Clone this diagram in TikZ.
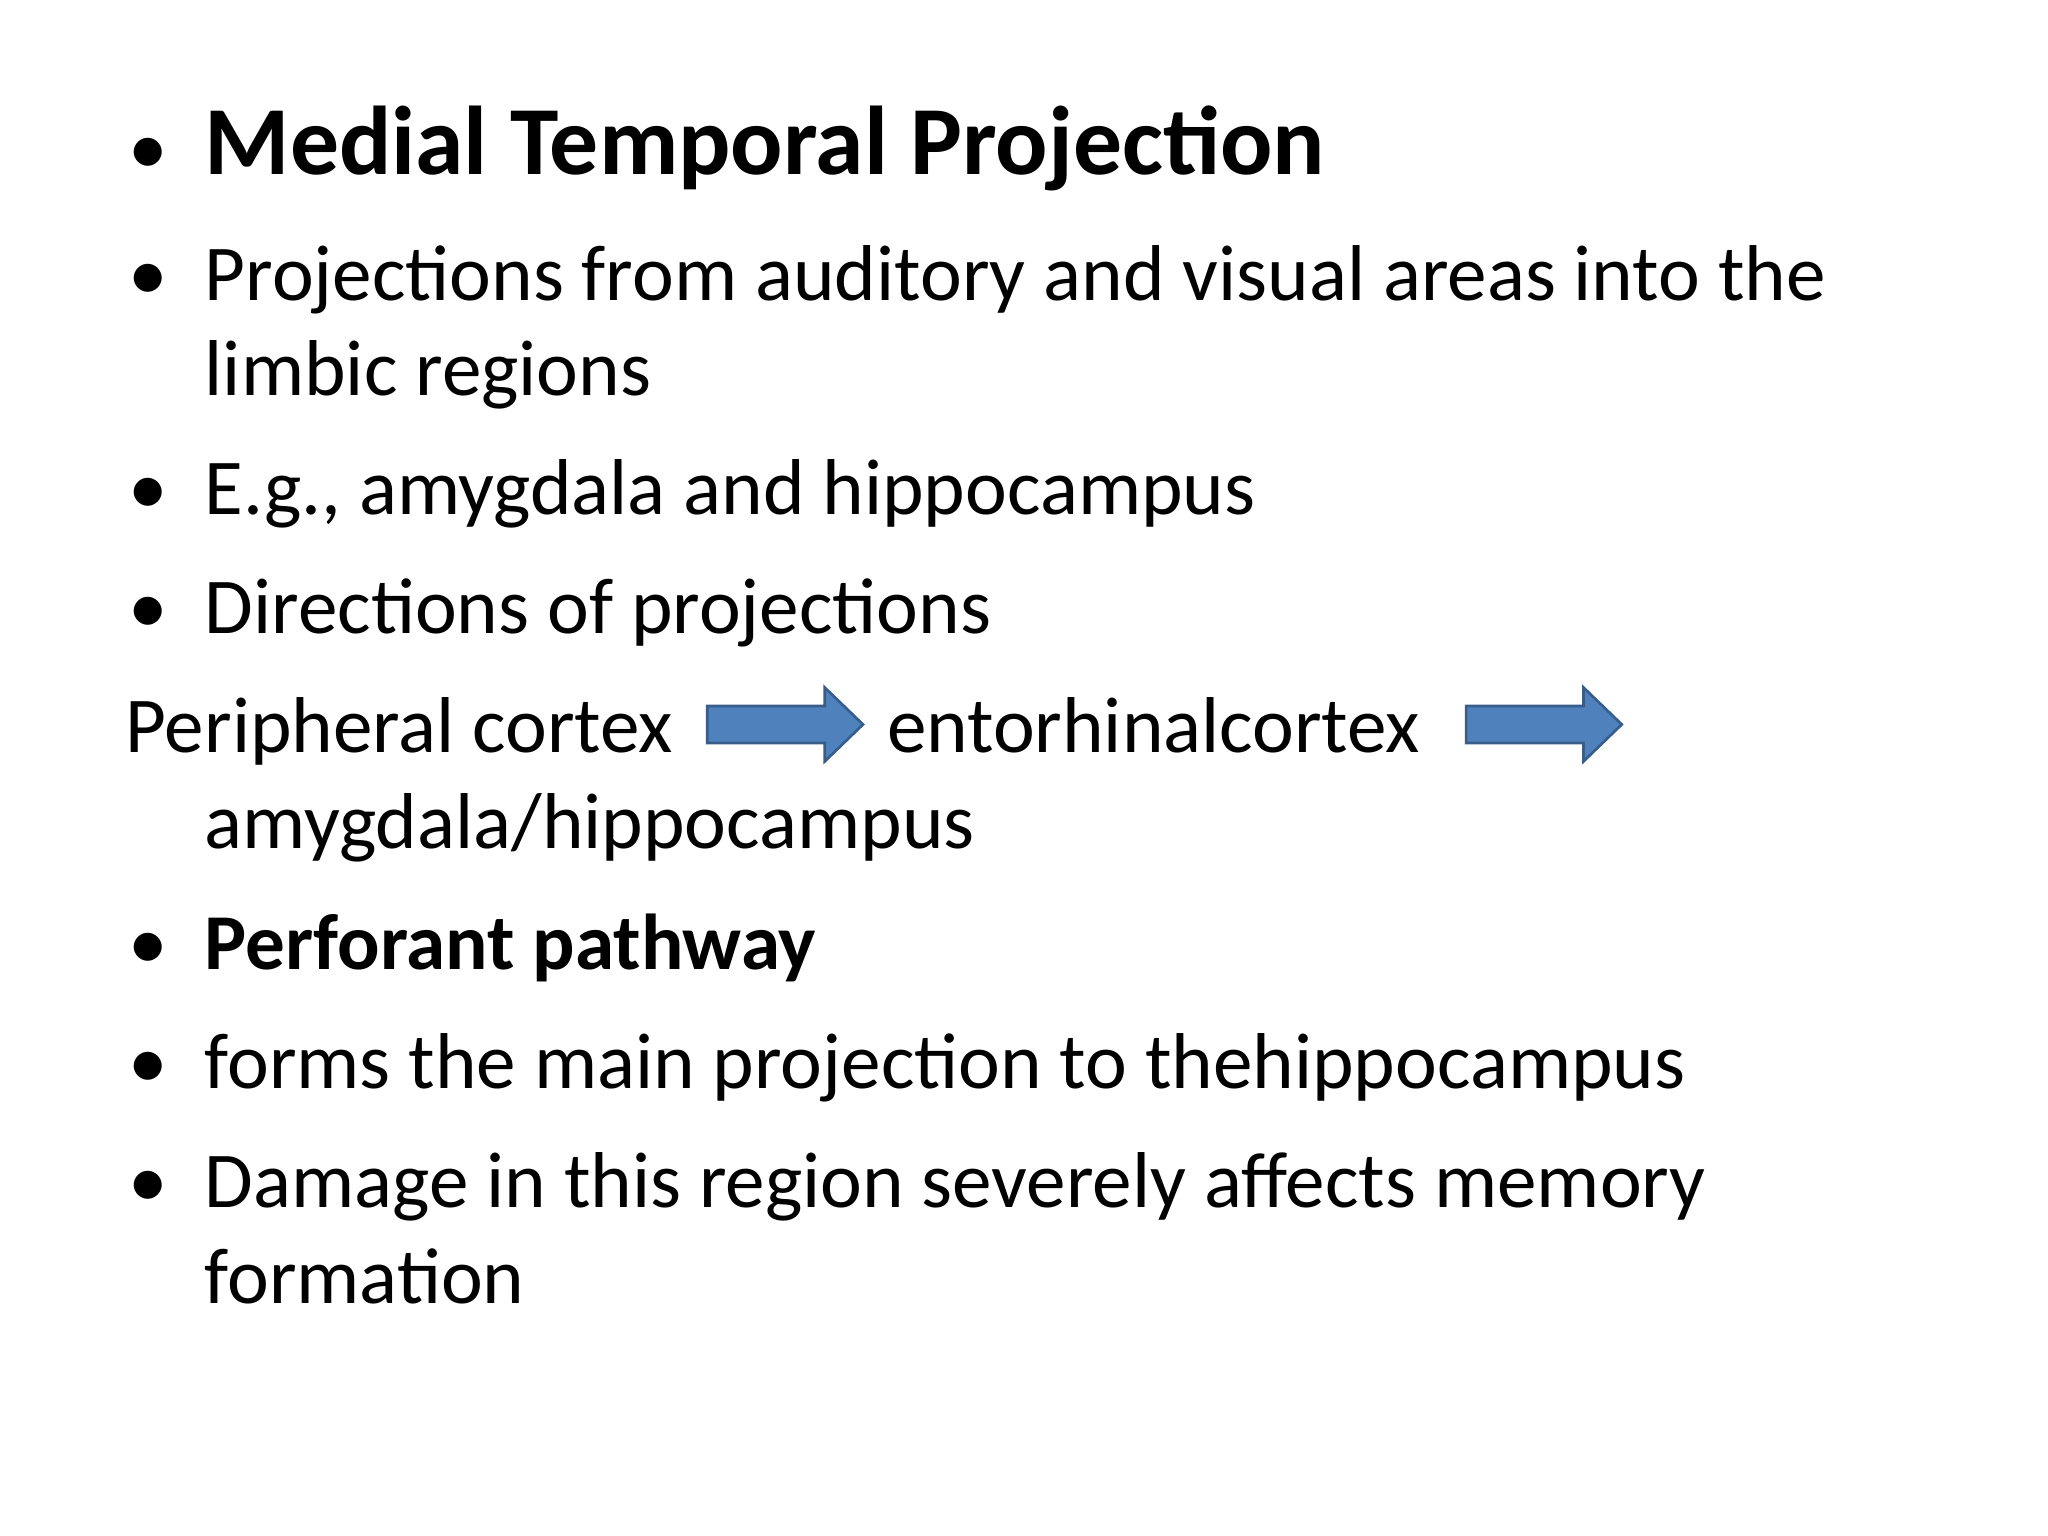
\documentclass[tikz,border=0pt]{standalone}
\usepackage{fontspec}
\setmainfont{Carlito}
\begin{document}
\begin{tikzpicture}[x=1pt,y=-1pt,
  txt/.style={anchor=base west,inner sep=0pt,font=\fontsize{60}{72}\selectfont},
  ttl/.style={anchor=base west,inner sep=0pt,font=\fontsize{74}{88}\selectfont\bfseries},
  arr/.style={fill={rgb,255:red,79;green,129;blue,189},draw={rgb,255:red,56;green,93;blue,138},line width=2pt,line join=miter}]
\useasboundingbox (0,0) rectangle (1552,1164);
\node[txt] (b0) at (97,132) {•};
\node[ttl] (t0) at (155,132) {Medial Temporal Projection};
\node[txt] (b1) at (97,228) {•};
\node[txt] (t1) at (155,228) {Projections from auditory and visual areas into the};
\node[txt] (t1b) at (155,300) {limbic regions};
\node[txt] (b2) at (97,390) {•};
\node[txt] (t2) at (155,390) {E.g., amygdala and hippocampus};
\node[txt] (b3) at (97,480) {•};
\node[txt] (t3) at (155,480) {Directions of projections};
\node[txt] (t4) at (95,570) {Peripheral cortex};
\node[txt] (t4b) at (672,570) {entorhinalcortex};
\node[txt] (t4c) at (155,643) {amygdala/hippocampus};
\node[txt] (b5) at (97,735) {•};
\node[txt,font=\fontsize{60}{72}\selectfont\bfseries] (t5) at (155,735) {Perforant pathway};
\node[txt] (b6) at (97,825) {•};
\node[txt] (t6) at (155,825) {forms the main projection to thehippocampus};
\node[txt] (b7) at (97,915) {•};
\node[txt] (t7) at (155,915) {Damage in this region severely affects memory};
\node[txt] (t7b) at (155,988) {formation};
\foreach \x in {536,1111}{
  \draw[arr] (\x,535) -- (\x+89,535) -- (\x+89,521) -- (\x+118,549) -- (\x+89,577) -- (\x+89,563) -- (\x,563) -- cycle;
}
\end{tikzpicture}
\end{document}
